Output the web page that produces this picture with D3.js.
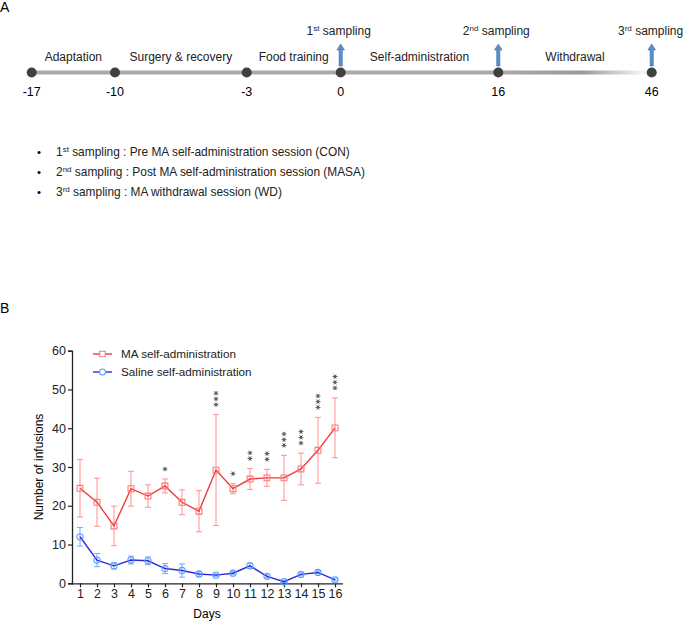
<!DOCTYPE html>
<html>
<head>
<meta charset="utf-8">
<script src="https://cdn.jsdelivr.net/npm/d3@7/dist/d3.min.js"></script>
<style>
  body { margin: 0; background: #fff; }
  svg { font-family: Arial, "Liberation Sans", sans-serif; }
</style>
</head>
<body>
<svg id="fig" width="685" height="622"></svg>
<script>
// ---- panel A: timeline ----
var timeDays = [-17, -10, -3, 0, 16, 46];
var phaseNames = ["Adaptation", "Surgery & recovery", "Food training", "Self-administration", "Withdrawal"];
var samplingDays = [0, 16, 46];
var samplingOrd = [["1", "st"], ["2", "nd"], ["3", "rd"]];
var notes = [
	["1", "st", " sampling : Pre MA self-administration session (CON)"],
	["2", "nd", " sampling : Post MA self-administration session (MASA)"],
	["3", "rd", " sampling : MA withdrawal session (WD)"]
];

// ---- panel B: infusions ----
var days = d3.range(1, 17);
var maMean = [24.5, 20.9, 14.8, 24.4, 22.5, 25.1, 20.9, 18.6, 29.2, 24.4, 26.9, 27.2, 27.2, 29.5, 34.3, 40.1];
var maSem  = [7.4, 6.2, 5.1, 4.5, 2.9, 1.8, 3.2, 5.3, 14.3, 1.3, 2.7, 2.2, 5.8, 4.1, 8.5, 7.7];
var salMean = [12.0, 6.0, 4.5, 6.0, 5.8, 3.8, 3.3, 2.4, 2.1, 2.6, 4.5, 1.8, 0.4, 2.3, 2.8, 0.9];
var salSem  = [2.4, 1.7, 0.8, 1.0, 1.0, 1.3, 1.7, 0.6, 0.3, 0.4, 0.7, 0.4, 0.2, 0.4, 0.4, 0.3];
var stars = [0, 0, 0, 0, 0, 1, 0, 0, 3, 1, 2, 2, 3, 3, 3, 3];
var yTicks = [0, 10, 20, 30, 40, 50, 60];

var svg = d3.select("#fig");

/* ---------------------------------------------------------------
 * Panel A
 * ------------------------------------------------------------- */
svg.append("text").attr("x", 0).attr("y", 12).attr("font-size", 14).text("A");

// timeline positions are not linear in days, so an ordinal point scale
var tx = d3.scaleOrdinal()
	.domain(timeDays)
	.range([31.7, 115, 246.7, 340.7, 498.3, 651.7]);
var lineY = 72.5;

var defs = svg.append("defs");
var grad = defs.append("linearGradient").attr("id", "fade")
	.attr("gradientUnits", "userSpaceOnUse")
	.attr("x1", tx(16)).attr("x2", tx(46)).attr("y1", 0).attr("y2", 0);
grad.append("stop").attr("offset", "0").attr("stop-color", "#aaa");
grad.append("stop").attr("offset", "0.55").attr("stop-color", "#999");
grad.append("stop").attr("offset", "0.93").attr("stop-color", "#f2f2f2");
grad.append("stop").attr("offset", "1").attr("stop-color", "#f2f2f2");

svg.append("line")
	.attr("x1", tx(-17)).attr("x2", tx(16)).attr("y1", lineY).attr("y2", lineY)
	.attr("stroke", "#aaa").attr("stroke-width", 4);
svg.append("rect")
	.attr("x", tx(16)).attr("y", lineY - 2).attr("width", tx(46) - tx(16)).attr("height", 4)
	.attr("fill", "url(#fade)");

svg.selectAll("circle.tdot").data(timeDays).enter().append("circle")
	.attr("class", "tdot")
	.attr("cx", function (d) { return tx(d); })
	.attr("cy", lineY).attr("r", 5)
	.attr("fill", "#404040");

svg.selectAll("text.tday").data(timeDays).enter().append("text")
	.attr("class", "tday")
	.attr("x", function (d) { return tx(d); })
	.attr("y", 96).attr("text-anchor", "middle").attr("font-size", 12.5)
	.text(function (d) { return d; });

svg.selectAll("text.phase").data(phaseNames).enter().append("text")
	.attr("class", "phase")
	.attr("x", function (d, i) { return (tx(timeDays[i]) + tx(timeDays[i + 1])) / 2; })
	.attr("y", 60.5).attr("text-anchor", "middle").attr("font-size", 12)
	.attr("fill", "#222")
	.text(function (d) { return d; });

// sampling arrows and labels
samplingDays.forEach(function (d, i) {
	var x = tx(d);
	svg.append("path")
		.attr("d", "M" + (x - 1.6) + ",66 L" + (x - 1.6) + ",50 L" + (x - 3.8) + ",50 L" + x + ",44 L" +
			(x + 3.8) + ",50 L" + (x + 1.6) + ",50 L" + (x + 1.6) + ",66 Z")
		.attr("fill", "#5b8fc8").attr("stroke", "#3f6fa6").attr("stroke-width", 0.6);

	var t = svg.append("text")
		.attr("x", i == 2 ? 618 : x - 2).attr("y", 35)
		.attr("text-anchor", i == 2 ? "start" : "middle")
		.attr("font-size", 12).attr("fill", "#222");
	t.append("tspan").text(samplingOrd[i][0]);
	t.append("tspan").attr("font-size", 8).attr("dy", -4).text(samplingOrd[i][1]);
	t.append("tspan").attr("dy", 4).text(" sampling");
});

// bullet notes
notes.forEach(function (n, i) {
	var y = 155.5 + i * 20;
	svg.append("text").attr("x", 37).attr("y", y).attr("font-size", 11.5).text("\u2022");
	var t = svg.append("text").attr("x", 56).attr("y", y).attr("font-size", 11.9).attr("fill", "#222");
	t.append("tspan").text(n[0]);
	t.append("tspan").attr("font-size", 8).attr("dy", -4).text(n[1]);
	t.append("tspan").attr("dy", 4).text(n[2]);
});

/* ---------------------------------------------------------------
 * Panel B
 * ------------------------------------------------------------- */
svg.append("text").attr("x", 0).attr("y", 313).attr("font-size", 14).text("B");

var x = d3.scaleLinear().domain([1, 16]).range([80, 335]);
var y = d3.scaleLinear().domain([0, 60]).range([583.3, 350.7]);

var g = svg.append("g");

var yAxis = g.append("g")
	.attr("transform", "translate(72,0)")
	.call(d3.axisLeft(y).tickValues(yTicks).tickSize(4).tickPadding(2));
var xAxis = g.append("g")
	.attr("transform", "translate(0," + y(0) + ")")
	.call(d3.axisBottom(x).tickValues(days).tickSize(4).tickPadding(2).tickSizeOuter(0));
xAxis.select(".domain").attr("d", "M72,0.5H343");

[yAxis, xAxis].forEach(function (a) {
	a.select(".domain").attr("stroke", "#222").attr("stroke-width", 1.3);
	a.selectAll(".tick line").attr("stroke", "#222").attr("stroke-width", 1.2);
	a.selectAll(".tick text").attr("font-size", 12.5).attr("fill", "#222")
		.attr("font-family", "Arial, 'Liberation Sans', sans-serif");
});

g.append("text")
	.attr("x", 207).attr("y", 618).attr("text-anchor", "middle").attr("font-size", 12)
	.text("Days");
g.append("text")
	.attr("transform", "translate(43,467) rotate(-90)")
	.attr("text-anchor", "middle").attr("font-size", 12)
	.text("Number of infusions");

function drawSeries(mean, sem, lineColor, errColor, markColor, square)
{
	var pts = days.map(function (d, i) { return { d: d, m: mean[i], s: sem[i] }; });
	var eg = g.append("g").attr("stroke", errColor).attr("stroke-width", 1.1).attr("fill", "none");
	pts.forEach(function (p) {
		var xx = x(p.d), y1 = y(p.m + p.s), y2 = y(Math.max(0, p.m - p.s));
		eg.append("line").attr("x1", xx).attr("x2", xx).attr("y1", y1).attr("y2", y2);
		eg.append("line").attr("x1", xx - 3).attr("x2", xx + 3).attr("y1", y1).attr("y2", y1);
		eg.append("line").attr("x1", xx - 3).attr("x2", xx + 3).attr("y1", y2).attr("y2", y2);
	});
	g.append("path").datum(pts)
		.attr("fill", "none").attr("stroke", lineColor).attr("stroke-width", 1.4)
		.attr("d", d3.line().x(function (p) { return x(p.d); }).y(function (p) { return y(p.m); }));
	var sym = d3.symbol().type(square ? d3.symbolSquare : d3.symbolCircle).size(square ? 34 : 30);
	g.selectAll(null).data(pts).enter().append("path")
		.attr("transform", function (p) { return "translate(" + x(p.d) + "," + y(p.m) + ")"; })
		.attr("d", sym)
		.attr("fill", "none").attr("stroke", markColor).attr("stroke-width", 1.1);
}

drawSeries(maMean, maSem, "#f23a3a", "#f99", "#f77", true);
drawSeries(salMean, salSem, "#2b2bdb", "#7fb0ff", "#5a9cff", false);

// significance stars stacked above the MA error bars
var starSym = d3.symbol().type(d3.symbolAsterisk).size(16);
days.forEach(function (d, i) {
	var top = y(maMean[i] + maSem[i]);
	for (var k = 0; k < stars[i]; k++) {
		var cy = top - 10 - k * 5.7;
		g.append("path")
			.attr("transform", "translate(" + x(d) + "," + cy + ") rotate(90)")
			.attr("d", starSym)
			.attr("fill", "none").attr("stroke", "#555").attr("stroke-width", 1);
	}
});

// legend
var legend = [
	{ name: "MA self-administration", line: "#f23a3a", mark: "#f77", square: true, y: 354 },
	{ name: "Saline self-administration", line: "#2b2bdb", mark: "#5a9cff", square: false, y: 372 }
];
legend.forEach(function (l) {
	g.append("line").attr("x1", 93).attr("x2", 112).attr("y1", l.y).attr("y2", l.y)
		.attr("stroke", l.line).attr("stroke-width", 1.4);
	g.append("path")
		.attr("transform", "translate(102.5," + l.y + ")")
		.attr("d", d3.symbol().type(l.square ? d3.symbolSquare : d3.symbolCircle).size(l.square ? 30 : 28))
		.attr("fill", "#fff").attr("stroke", l.mark).attr("stroke-width", 1.1);
	g.append("text").attr("x", 121).attr("y", l.y + 4.3).attr("font-size", 11.7).attr("fill", "#222")
		.text(l.name);
});
</script>
</body>
</html>
